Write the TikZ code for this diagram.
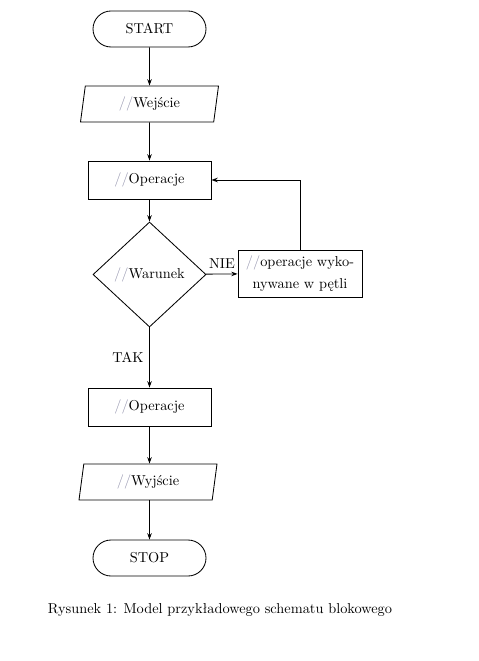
\documentclass[tikz,border=0pt]{standalone}
\usetikzlibrary{shapes.geometric,shapes.misc,arrows.meta}
\definecolor{slashcol}{RGB}{150,150,175}
\newcommand{\slc}{\textcolor{slashcol}{//}}
\tikzset{
  base/.style={draw, line width=0.6pt, inner sep=0pt, align=center, font=\fontsize{10.25pt}{15.7pt}\selectfont},
  term/.style={base, rounded rectangle, minimum width=113*0.714pt, minimum height=36*0.714pt},
  io/.style={base, trapezium, trapezium left angle=71.5, trapezium right angle=108.5, trapezium stretches body, minimum width=138*0.714pt, minimum height=36*0.714pt},
  proc/.style={base, rectangle, minimum width=123*0.714pt, minimum height=38*0.714pt},
  dec/.style={base, diamond, minimum width=113*0.714pt, minimum height=105*0.714pt},
  conn/.style={-{Stealth[length=4.5pt,width=3.2pt]}, line width=0.6pt},
  lbl/.style={font=\fontsize{10.25pt}{12pt}\selectfont, inner sep=1pt}
}
\begin{document}
\begin{tikzpicture}[x=0.714pt,y=-0.714pt]
\useasboundingbox (0,0) rectangle (478,661);
\node[term] (start) at (149.5,29) {START};
\node[io] (in) at (149.5,104) {\slc Wejście};
\node[proc] (op1) at (149.5,180) {\slc Operacje};
\node[dec] (war) at (149.5,274.5) {\slc Warunek};
\node[proc, minimum width=124*0.714pt, minimum height=47*0.714pt] (loop) at (300,273.5) {\slc operacje wyko-\\nywane w pętli};
\node[proc] (op2) at (149.5,407) {\slc Operacje};
\node[io] (out) at (148,482) {\slc Wyjście};
\node[term] (stop) at (149.5,558) {STOP};
\node[lbl] (nie) at (222,264) {NIE};
\node[lbl] (tak) at (128,357) {TAK};
\node[lbl] (cap) at (220,610) {Rysunek 1: Model przykładowego schematu blokowego};
\coordinate (corner) at (300,180);
\draw[conn] (start) -- (in);
\draw[conn] (in) -- (op1);
\draw[conn] (op1) -- (war);
\draw[conn] (war) -- (loop);
\draw[conn] (loop.north) -- (corner) -- (op1.east);
\draw[conn] (war) -- (op2);
\draw[conn] (op2.south) -- (op2.south |- out.north);
\draw[conn] (stop.north |- out.south) -- (stop.north);
\end{tikzpicture}
\end{document}
